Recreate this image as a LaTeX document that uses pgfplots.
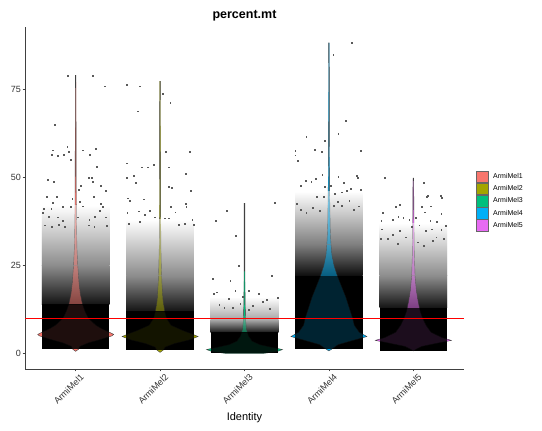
\documentclass[border=0pt]{standalone}
\usepackage{pgfplots}
\usepackage{pgfplotstable}
\pgfplotsset{compat=1.18}
\usetikzlibrary{calc}
\usepackage{fontspec}
\setmainfont{Liberation Sans}
\definecolor{c1}{HTML}{F8766D}
\definecolor{c2}{HTML}{A3A500}
\definecolor{c3}{HTML}{00BF7D}
\definecolor{c4}{HTML}{00B0F6}
\definecolor{c5}{HTML}{E76BF3}

% violin outlines: v = value, dx = horizontal offset from the category centre
\pgfplotstableread{
v dx
0.6 0
1.2 0.035
2.0 0.05
3.0 0.15
4.0 0.30
5.0 0.43
5.4 0.45
6.0 0.40
7.0 0.31
8.0 0.24
10 0.15
12 0.11
14 0.08
17 0.055
20 0.04
25 0.025
30 0.015
40 0.008
60 0.005
79 0.004
79 -0.004
60 -0.005
40 -0.008
30 -0.015
25 -0.025
20 -0.04
17 -0.055
14 -0.08
12 -0.11
10 -0.15
8.0 -0.24
7.0 -0.31
6.0 -0.40
5.4 -0.45
5.0 -0.43
4.0 -0.30
3.0 -0.15
2.0 -0.05
1.2 -0.035
}\vA
\pgfplotstableread{
v dx
0.3 0
1.0 0.04
1.8 0.06
2.8 0.17
3.8 0.34
4.8 0.45
5.6 0.37
6.5 0.27
8 0.13
10 0.075
12 0.055
15 0.035
20 0.022
25 0.015
30 0.01
40 0.007
77.3 0.004
77.3 -0.004
40 -0.007
30 -0.01
25 -0.015
20 -0.022
15 -0.035
12 -0.055
10 -0.075
8 -0.13
6.5 -0.27
5.6 -0.37
4.8 -0.45
3.8 -0.34
2.8 -0.17
1.8 -0.06
1.0 -0.04
}\vB
\pgfplotstableread{
v dx
0 0.22
0.5 0.38
1.1 0.45
1.7 0.33
2.5 0.18
3.5 0.09
5 0.045
7 0.022
10 0.012
15 0.007
25 0.005
42.6 0.004
42.6 -0.004
25 -0.005
15 -0.007
10 -0.012
7 -0.022
5 -0.045
3.5 -0.09
2.5 -0.18
1.7 -0.33
1.1 -0.45
0.5 -0.38
0 -0.22
}\vC
\pgfplotstableread{
v dx
0.7 0
1.5 0.05
2.5 0.11
3.6 0.27
4.8 0.45
6 0.36
8 0.30
10 0.28
13 0.24
16 0.20
19 0.15
22 0.10
25 0.06
28 0.035
32 0.022
36 0.015
45 0.009
60 0.006
88.2 0.004
88.2 -0.004
60 -0.006
45 -0.009
36 -0.015
32 -0.022
28 -0.035
25 -0.06
22 -0.10
19 -0.15
16 -0.20
13 -0.24
10 -0.28
8 -0.30
6 -0.36
4.8 -0.45
3.6 -0.27
2.5 -0.11
1.5 -0.05
}\vD
\pgfplotstableread{
v dx
0.7 0
1.3 0.04
2.0 0.10
3.0 0.30
3.7 0.45
4.5 0.34
6 0.21
8 0.15
10 0.11
12 0.08
15 0.055
18 0.035
22 0.02
28 0.012
35 0.008
49.8 0.004
49.8 -0.004
35 -0.008
28 -0.012
22 -0.02
18 -0.035
15 -0.055
12 -0.08
10 -0.11
8 -0.15
6 -0.21
4.5 -0.34
3.7 -0.45
3.0 -0.30
2.0 -0.10
1.3 -0.04
}\vE

\begin{document}
\begin{tikzpicture}
\begin{axis}[
  name=ax,
  scale only axis,
  width=439pt, height=342pt,
  xmin=0.4, xmax=5.6,
  ymin=-4.42, ymax=92.7,
  axis x line*=bottom, axis y line*=left,
  axis line style={black!75, line width=0.6pt},
  tick style={black!75, line width=0.6pt},
  tick align=outside, major tick length=2.5pt,
  xtick={1,2,3,4,5},
  xticklabels={ArmiMel1,ArmiMel2,ArmiMel3,ArmiMel4,ArmiMel5},
  ytick={0,25,50,75},
  /pgf/number format/assume math mode=true,
  ticklabel style={font=\fontsize{9}{10}\selectfont, text=black!80},
  xticklabel style={rotate=45, anchor=north east, inner sep=1pt, xshift=3pt, yshift=-3pt},
  yticklabel style={inner sep=1.5pt},
  xlabel={Identity},
  xlabel style={at={(axis description cs:0.5,-0.152)}, anchor=base, font=\fontsize{11}{12}\selectfont},
  every axis title shift=0pt,
  title={\bfseries percent.mt},
  title style={at={(axis description cs:0.5,1.025)}, anchor=base, font=\fontsize{12.5}{14}\selectfont},
  legend image code/.code={\draw[#1] (0pt,-5.85pt) rectangle (11.7pt,5.85pt);},
  legend cell align=left,
  legend style={at={(axis description cs:1.027,0.491)}, anchor=west, draw=none, fill=none,
    inner sep=0pt, row sep=0pt, font=\fontsize{7}{8}\selectfont,
    nodes={inner sep=0pt, anchor=west},
    /tikz/every odd column/.style={column sep=5pt}},
]
% ---- sparse upper parts of the jittered clouds (gradients) ----
\addplot[forget plot, draw=none, bottom color=black!92, top color=black!45] coordinates {(0.6,14) (1.4,14) (1.4,25) (0.6,25)} -- cycle;
\addplot[forget plot, draw=none, bottom color=black!45, top color=white] coordinates {(0.6,25) (1.4,25) (1.4,42) (0.6,42)} -- cycle;
\addplot[forget plot, draw=none, bottom color=black!92, top color=black!45] coordinates {(1.6,12) (2.4,12) (2.4,22) (1.6,22)} -- cycle;
\addplot[forget plot, draw=none, bottom color=black!45, top color=white] coordinates {(1.6,22) (2.4,22) (2.4,38) (1.6,38)} -- cycle;
\addplot[forget plot, draw=none, bottom color=black!90, top color=black!35] coordinates {(2.6,6) (3.4,6) (3.4,9.5) (2.6,9.5)} -- cycle;
\addplot[forget plot, draw=none, bottom color=black!35, top color=white] coordinates {(2.6,9.5) (3.4,9.5) (3.4,16) (2.6,16)} -- cycle;
\addplot[forget plot, draw=none, bottom color=black!95, top color=black!50] coordinates {(3.6,22) (4.4,22) (4.4,31) (3.6,31)} -- cycle;
\addplot[forget plot, draw=none, bottom color=black!50, top color=white] coordinates {(3.6,31) (4.4,31) (4.4,46) (3.6,46)} -- cycle;
\addplot[forget plot, draw=none, bottom color=black!92, top color=black!45] coordinates {(4.6,13) (5.4,13) (5.4,22) (4.6,22)} -- cycle;
\addplot[forget plot, draw=none, bottom color=black!45, top color=white] coordinates {(4.6,22) (5.4,22) (5.4,37) (4.6,37)} -- cycle;
% ---- dense cores (opaque) ----
\addplot[forget plot, draw=none, fill=black] coordinates {(0.6,1.2) (1.4,1.2) (1.4,14) (0.6,14)} -- cycle;
\addplot[forget plot, draw=none, fill=black] coordinates {(1.6,0.9) (2.4,0.9) (2.4,12) (1.6,12)} -- cycle;
\addplot[forget plot, draw=none, fill=black] coordinates {(2.6,0) (3.4,0) (3.4,6) (2.6,6)} -- cycle;
\addplot[forget plot, draw=none, fill=black] coordinates {(3.6,1.2) (4.4,1.2) (4.4,22) (3.6,22)} -- cycle;
\addplot[forget plot, draw=none, fill=black] coordinates {(4.6,0.7) (5.4,0.7) (5.4,13) (4.6,13)} -- cycle;
% ---- violins ----
\addplot[forget plot, fill=c1, draw=black!75, line width=0.4pt] table[x expr=1+\thisrow{dx}, y=v] {\vA} -- cycle;
\addplot[forget plot, fill=c2, draw=black!75, line width=0.4pt] table[x expr=2+\thisrow{dx}, y=v] {\vB} -- cycle;
\addplot[forget plot, fill=c3, draw=black!75, line width=0.4pt] table[x expr=3+\thisrow{dx}, y=v] {\vC} -- cycle;
\addplot[forget plot, fill=c4, draw=black!75, line width=0.4pt] table[x expr=4+\thisrow{dx}, y=v] {\vD} -- cycle;
\addplot[forget plot, fill=c5, draw=black!75, line width=0.4pt] table[x expr=5+\thisrow{dx}, y=v] {\vE} -- cycle;
% ---- points lying over the violins: translucent copies of the cloud ----
\addplot[forget plot, draw=none, fill opacity=0.5, bottom color=black!92, top color=black!45] coordinates {(0.6,14) (1.4,14) (1.4,25) (0.6,25)} -- cycle;
\addplot[forget plot, draw=none, fill opacity=0.5, bottom color=black!45, top color=white] coordinates {(0.6,25) (1.4,25) (1.4,42) (0.6,42)} -- cycle;
\addplot[forget plot, draw=none, fill opacity=0.5, bottom color=black!92, top color=black!45] coordinates {(1.6,12) (2.4,12) (2.4,22) (1.6,22)} -- cycle;
\addplot[forget plot, draw=none, fill opacity=0.5, bottom color=black!45, top color=white] coordinates {(1.6,22) (2.4,22) (2.4,38) (1.6,38)} -- cycle;
\addplot[forget plot, draw=none, fill opacity=0.5, bottom color=black!90, top color=black!35] coordinates {(2.6,6) (3.4,6) (3.4,9.5) (2.6,9.5)} -- cycle;
\addplot[forget plot, draw=none, fill opacity=0.5, bottom color=black!95, top color=black!50] coordinates {(3.6,22) (4.4,22) (4.4,31) (3.6,31)} -- cycle;
\addplot[forget plot, draw=none, fill opacity=0.5, bottom color=black!50, top color=white] coordinates {(3.6,31) (4.4,31) (4.4,46) (3.6,46)} -- cycle;
\addplot[forget plot, draw=none, fill opacity=0.5, bottom color=black!92, top color=black!45] coordinates {(4.6,13) (5.4,13) (5.4,22) (4.6,22)} -- cycle;
\addplot[forget plot, draw=none, fill opacity=0.5, bottom color=black!45, top color=white] coordinates {(4.6,22) (5.4,22) (5.4,37) (4.6,37)} -- cycle;
% ---- dense cores over the violins (translucent) ----
\addplot[forget plot, draw=none, fill=black, fill opacity=0.88] coordinates {(0.6,1.2) (1.4,1.2) (1.4,14) (0.6,14)} -- cycle;
\addplot[forget plot, draw=none, fill=black, fill opacity=0.88] coordinates {(1.6,0.9) (2.4,0.9) (2.4,12) (1.6,12)} -- cycle;
\addplot[forget plot, draw=none, fill=black, fill opacity=0.88] coordinates {(2.6,0) (3.4,0) (3.4,6) (2.6,6)} -- cycle;
\addplot[forget plot, draw=none, fill=black, fill opacity=0.8] coordinates {(3.6,1.2) (4.4,1.2) (4.4,22) (3.6,22)} -- cycle;
\addplot[forget plot, draw=none, fill=black, fill opacity=0.88] coordinates {(4.6,0.7) (5.4,0.7) (5.4,13) (4.6,13)} -- cycle;
% ---- sparse points ----
\addplot[forget plot, only marks, mark=square*, mark size=0.42pt, black!65] coordinates {
(0.905,78.8) (1.20,78.8) (1.34,75.9) (0.755,65.0) (0.73,57.7) (0.72,56.5) (0.79,56.2) (0.86,56.4) (0.90,58.8) (0.92,57.4) (0.94,55.0) (1.08,57.7) (1.17,56.5) (1.24,58.1) (1.25,53.1) (0.67,49.4) (0.74,48.8) (1.15,49.9) (1.19,49.9) (1.20,48.7) (1.30,47.6) (1.06,47.7) (1.04,46.6) (1.36,46.3) (0.66,44.4) (0.78,44.4) (0.96,43.9) (1.21,44.6) (1.05,43.0) (1.30,42.5) (1.32,41.6) (0.62,41.1) (0.71,41.1) (0.73,42.7) (0.85,41.6) (0.94,41.6) (1.08,41.8) (0.61,39.9) (0.68,38.9) (0.79,38.7) (0.85,37.8) (1.02,38.7) (1.16,38.0) (1.23,38.9) (1.28,40.6) (1.36,38.7) (0.63,36.4) (0.72,35.9) (0.80,36.6) (0.87,35.9) (1.15,36.4) (1.22,35.9) (1.37,36.3)
(1.60,76.3) (1.76,75.9) (2.03,73.7) (2.12,71.1) (1.73,68.8) (2.07,57.4) (2.35,57.2) (1.60,54.0) (1.78,52.9) (1.85,52.9) (1.92,53.7) (2.10,52.9) (1.60,49.8) (1.69,50.4) (1.71,48.6) (2.30,51.0) (2.10,47.4) (2.14,47.1) (2.36,46.1) (1.62,44.1) (1.64,43.3) (1.81,43.8) (2.30,42.5) (2.31,41.6) (2.13,41.6) (1.88,40.6) (1.75,40.4) (1.61,40.0) (1.82,39.5) (2.18,40.1) (1.94,38.7) (2.05,38.4) (2.10,38.4) (2.38,38.0) (1.76,37.3) (1.63,36.8) (2.22,36.6) (2.29,36.8) (2.40,36.6)
(2.79,40.6) (3.36,42.7) (2.66,37.8) (2.90,33.4) (2.93,25.0) (2.62,21.3) (3.32,22.1) (2.83,20.6) (2.67,17.4) (2.64,17.0) (3.05,17.7) (3.17,17.0) (3.39,15.9) (2.89,17.9) (2.81,15.5) (2.98,16.0) (3.26,15.2) (2.70,13.8) (2.95,14.2) (3.10,13.5) (3.22,14.6) (2.76,12.9) (3.30,12.6) (2.86,13.1) (3.05,12.3)
(4.27,88.2) (4.05,84.9) (4.20,66.0) (4.11,62.5) (3.73,61.6) (3.95,60.5) (3.60,57.5) (3.60,56.3) (3.63,54.7) (3.83,57.8) (3.91,57.2) (4.38,57.5) (3.92,50.7) (3.84,49.7) (4.11,50.1) (4.33,50.5) (4.34,49.9) (3.67,47.7) (3.72,49.1) (3.79,48.7) (3.95,47.4) (4.02,47.7) (4.18,48.4) (4.26,46.8) (4.38,46.5) (3.62,42.5) (3.86,44.4) (3.94,44.4) (4.07,45.4) (4.15,45.8) (4.21,46.1) (3.81,41.4) (3.89,40.6) (4.06,42.0) (4.10,43.0) (4.15,42.0) (4.24,43.3) (4.29,40.9) (4.35,41.8) (3.67,40.8) (3.73,39.9)
(4.66,49.8) (5.12,48.4) (5.17,44.8) (5.16,44.4) (5.32,44.8) (5.34,44.2) (5.21,41.8) (4.84,42.3) (4.79,41.6) (5.10,41.6) (5.13,40.1) (5.33,39.7) (4.64,39.9) (4.82,38.9) (4.76,38.0) (4.88,38.6) (4.95,38.0) (5.03,38.6) (4.62,37.8) (5.20,37.6) (5.28,37.3) (5.07,36.4) (5.38,36.3) (4.63,35.3) (4.76,33.8) (4.84,34.9) (4.91,33.0) (4.98,36.1) (5.15,34.9) (5.22,35.3) (5.27,33.0) (5.33,35.1) (4.61,32.5) (4.70,32.7) (4.81,31.2) (5.05,31.6) (5.12,30.7) (5.23,32.1) (5.36,32.6)
};
% ---- threshold line ----
\addplot[forget plot, red, line width=0.6pt] coordinates {(0.4,10) (5.6,10)};
% ---- legend ----
\addlegendimage{fill=c1, draw=black!60, line width=0.5pt}
\addlegendentry{ArmiMel1}
\addlegendimage{fill=c2, draw=black!60, line width=0.5pt}
\addlegendentry{ArmiMel2}
\addlegendimage{fill=c3, draw=black!60, line width=0.5pt}
\addlegendentry{ArmiMel3}
\addlegendimage{fill=c4, draw=black!60, line width=0.5pt}
\addlegendentry{ArmiMel4}
\addlegendimage{fill=c5, draw=black!60, line width=0.5pt}
\addlegendentry{ArmiMel5}
\end{axis}
\pgfresetboundingbox
\path[use as bounding box] ($(ax.south west)+(-25pt,-62pt)$) rectangle ++(542pt,431pt);
\end{tikzpicture}
\end{document}
